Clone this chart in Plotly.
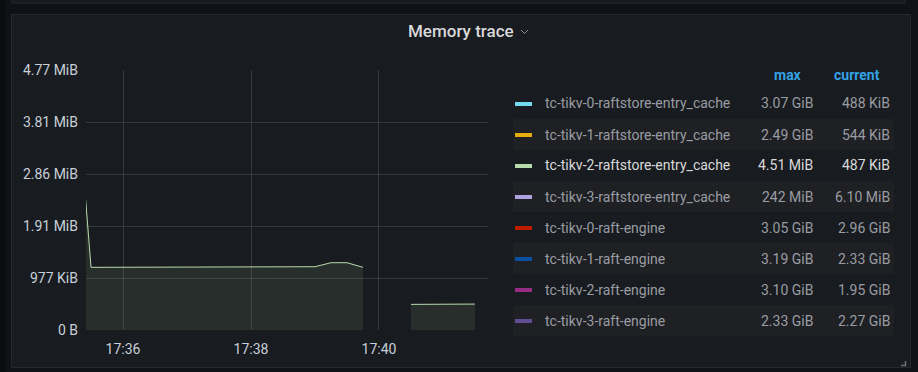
import plotly.graph_objects as go

# ---------------- data ----------------
DAY = "2024-01-01 "
times = ["17:35:25", "17:35:30", "17:35:45", "17:36:00", "17:36:15", "17:36:30", "17:36:45",
         "17:37:00", "17:37:15", "17:37:30", "17:37:45", "17:38:00", "17:38:15", "17:38:30",
         "17:38:45", "17:39:00", "17:39:15", "17:39:30", "17:39:45", "17:40:00", "17:40:15",
         "17:40:30", "17:40:45", "17:41:00", "17:41:15", "17:41:30"]
values = [2500000, 1205000, 1206000, 1206000, 1207000, 1208000, 1208000,
          1209000, 1210000, 1210000, 1211000, 1212000, 1213000, 1214000,
          1215000, 1217000, 1294000, 1294000, 1205000, None, None,
          493000, 494000, 495000, 497000, 498700]

y_tickvals = [0, 1e6, 2e6, 3e6, 4e6, 5e6]
y_ticktext = ["0 B", "977 KiB", "1.91 MiB", "2.86 MiB", "3.81 MiB", "4.77 MiB"]
x_tickvals = ["17:36:00", "17:38:00", "17:40:00"]
x_ticktext = ["17:36", "17:38", "17:40"]
x_range = ["17:35:25.3", "17:41:42.2"]

legend_names = ["tc-tikv-0-raftstore-entry_cache", "tc-tikv-1-raftstore-entry_cache",
                "tc-tikv-2-raftstore-entry_cache", "tc-tikv-3-raftstore-entry_cache",
                "tc-tikv-0-raft-engine", "tc-tikv-1-raft-engine",
                "tc-tikv-2-raft-engine", "tc-tikv-3-raft-engine"]
legend_colors = ["#70DBED", "#E5AC0E", "#B7DBAB", "#AEA2E0",
                 "#BF1B00", "#0A50A1", "#962D82", "#614D93"]
legend_max = ["3.07 GiB", "2.49 GiB", "4.51 MiB", "242 MiB",
              "3.05 GiB", "3.19 GiB", "3.10 GiB", "2.33 GiB"]
legend_current = ["488 KiB", "544 KiB", "487 KiB", "6.10 MiB",
                  "2.96 GiB", "2.33 GiB", "1.95 GiB", "2.27 GiB"]
legend_visible = [False, False, True, False, False, False, False, False]

# ---------------- layout helpers ----------------
W, H = 918, 372
PX0, PX1, PY0, PY1 = 86, 488, 70, 330   # plot area in pixels


def px(x):
    return x / W


def py(y):
    return 1 - y / H


FONT = "Roboto"
fig = go.Figure()

# split the series at gaps (None) so each segment is drawn and filled on its own
segments = []
cur_x, cur_y = [], []
for t, v in zip(times, values):
    if v is None:
        if cur_x:
            segments.append((cur_x, cur_y))
        cur_x, cur_y = [], []
    else:
        cur_x.append(DAY + t)
        cur_y.append(v)
if cur_x:
    segments.append((cur_x, cur_y))

for sx, sy in segments:
    fig.add_trace(go.Scatter(
        x=sx, y=sy, mode="lines",
        line=dict(color="#B7DBAB", width=1),
        fill="tozeroy", fillcolor="rgba(183,219,171,0.1)",
        hoverinfo="skip", showlegend=False))

shapes = []
# dark left strip
shapes.append(dict(type="rect", xref="paper", yref="paper", x0=px(0), x1=px(6), y0=py(372), y1=py(0),
                   fillcolor="#0b0c0e", line=dict(width=0), layer="below"))
# top panel (partially visible)
shapes.append(dict(type="rect", xref="paper", yref="paper", x0=px(12), x1=px(905), y0=py(3), y1=py(-10),
                   fillcolor="#181b1f", line=dict(color="#26282d", width=1), layer="below"))
# main panel
shapes.append(dict(type="rect", xref="paper", yref="paper", x0=px(11.5), x1=px(910.5), y0=py(367.5), y1=py(14.5),
                   fillcolor="#181b1f", line=dict(color="#26282d", width=1), layer="below"))
# title chevron
shapes.append(dict(type="path", xref="paper", yref="paper",
                   path=f"M {px(521)} {py(30)} L {px(524.5)} {py(33.5)} L {px(528)} {py(30)}",
                   line=dict(color="#8e8e95", width=1)))
# resize handle
shapes.append(dict(type="path", xref="paper", yref="paper",
                   path=f"M {px(901)} {py(365.5)} L {px(905.5)} {py(365.5)} L {px(905.5)} {py(361)}",
                   line=dict(color="#6e6f75", width=1.5)))

annotations = []
annotations.append(dict(xref="paper", yref="paper", x=px(460.5), y=py(31), text="Memory trace",
                        showarrow=False, xanchor="center", yanchor="middle",
                        font=dict(family=FONT, size=17, color="#d8d9da", weight=500)))

# legend table
row_y0 = 103.5
row_h = 31
annotations.append(dict(xref="paper", yref="paper", x=px(804), y=py(75), text="<b>max</b>",
                        showarrow=False, xanchor="right", yanchor="middle",
                        font=dict(family=FONT, size=14, color="#33a2e5")))
annotations.append(dict(xref="paper", yref="paper", x=px(882), y=py(75), text="<b>current</b>",
                        showarrow=False, xanchor="right", yanchor="middle",
                        font=dict(family=FONT, size=14, color="#33a2e5")))
for i, name in enumerate(legend_names):
    yc = row_y0 + i * row_h
    if i % 2 == 1:
        shapes.append(dict(type="rect", xref="paper", yref="paper", x0=px(513), x1=px(894),
                           y0=py(yc + 15.5), y1=py(yc - 15.5),
                           fillcolor="#1e2024", line=dict(width=0), layer="below"))
    shapes.append(dict(type="rect", xref="paper", yref="paper", x0=px(515), x1=px(532),
                       y0=py(yc + 2.5), y1=py(yc - 1.5),
                       fillcolor=legend_colors[i], line=dict(width=0)))
    col = "#d8d9da" if legend_visible[i] else "#9a9ca3"
    annotations.append(dict(xref="paper", yref="paper", x=px(543), y=py(yc), text=name,
                            showarrow=False, xanchor="left", yanchor="middle",
                            font=dict(family=FONT, size=14, color=col)))
    annotations.append(dict(xref="paper", yref="paper", x=px(815), y=py(yc), text=legend_max[i],
                            showarrow=False, xanchor="right", yanchor="middle",
                            font=dict(family=FONT, size=14, color=col)))
    annotations.append(dict(xref="paper", yref="paper", x=px(892), y=py(yc), text=legend_current[i],
                            showarrow=False, xanchor="right", yanchor="middle",
                            font=dict(family=FONT, size=14, color=col)))

grid = "rgba(204,204,220,0.16)"
fig.update_layout(
    width=W, height=H, autosize=False,
    margin=dict(l=0, r=0, t=0, b=0),
    paper_bgcolor="#111217", plot_bgcolor="#181b1f",
    showlegend=False, hovermode=False,
    shapes=shapes, annotations=annotations,
    xaxis=dict(type="date", domain=[px(PX0), px(PX1)],
               range=[DAY + x_range[0], DAY + x_range[1]],
               tickvals=[DAY + t for t in x_tickvals], ticktext=x_ticktext,
               showgrid=True, gridcolor=grid, gridwidth=1, zeroline=False, showline=False,
               ticks="", ticklabelstandoff=9, automargin=False, fixedrange=True,
               tickfont=dict(family=FONT, size=14, color="#c7d0d9")),
    yaxis=dict(domain=[py(PY1), py(PY0)], range=[0, 5e6],
               tickvals=y_tickvals, ticktext=y_ticktext,
               showgrid=True, gridcolor=grid, gridwidth=1, zeroline=False, showline=False,
               ticks="", ticklabelstandoff=7, automargin=False, fixedrange=True,
               tickfont=dict(family=FONT, size=14, color="#c7d0d9")),
)

fig.write_html("out.html")
